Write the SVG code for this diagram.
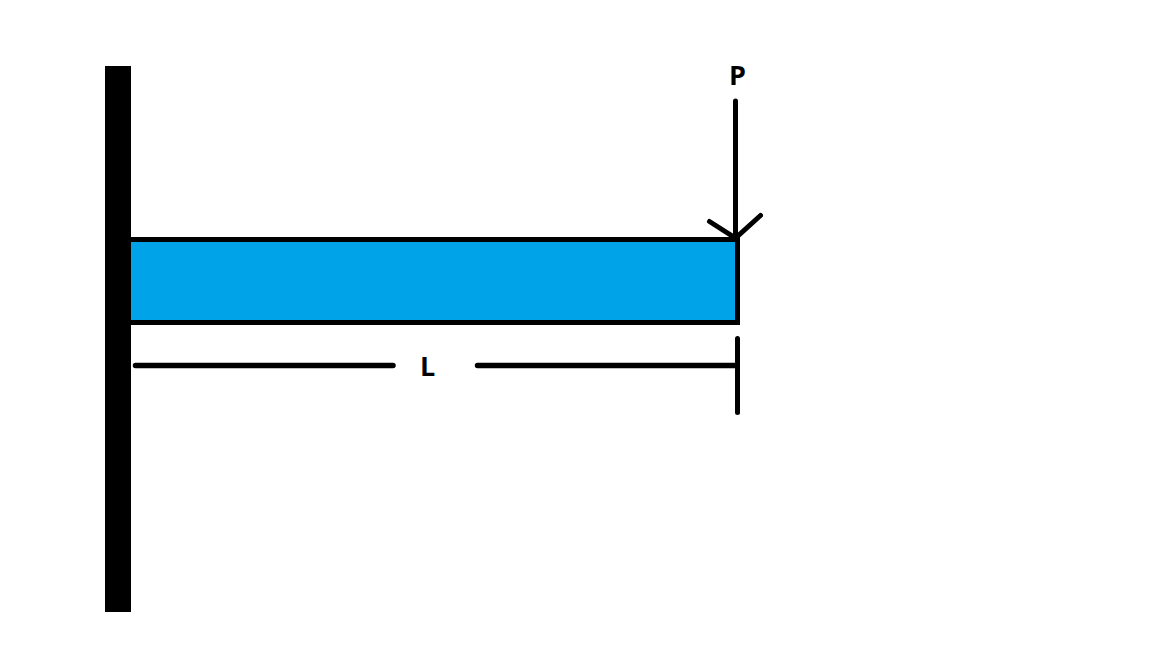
<svg xmlns="http://www.w3.org/2000/svg" width="1152" height="648" viewBox="0 0 1152 648">
<style>
.ln{stroke:#000;stroke-width:5;stroke-linecap:round;fill:none}
.lb{font-family:"Open Sans","Liberation Sans",sans-serif;font-weight:700;font-size:27px;fill:#000;text-anchor:start}
</style>
<rect width="1152" height="648" fill="#fff"/>
<g id="wall"><rect x="105" y="66" width="26" height="546" fill="#000"/></g>
<g id="beam"><path d="M131 239.500H737.500V322.500H131" fill="#00a2e8" stroke="#000" stroke-width="5"/></g>
<g id="connectors">
<path class="ln" d="M735.500 101V239"/>
<path class="ln" d="M709.500 221.500L735.500 238L760.500 215.500"/>
<path class="ln" style="stroke-width:5.500" d="M135.500 365.500H393M477.500 365.500H737"/>
<path class="ln" d="M737.500 338.500V412.500"/>
</g>
<g id="label-P"><text class="lb" x="729" y="85">P</text></g>
<g id="label-L"><text class="lb" x="420" y="376">L</text></g>
</svg>
